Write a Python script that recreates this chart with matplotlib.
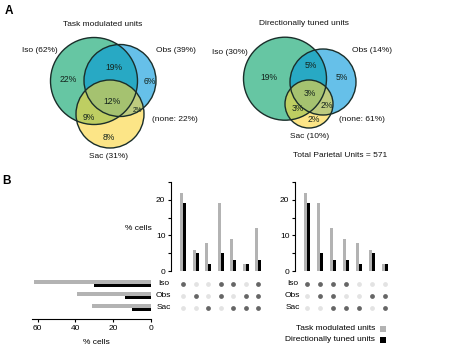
import numpy as np
import matplotlib
matplotlib.use("Agg")
import matplotlib.pyplot as plt
from matplotlib.patches import Circle

plt.rcParams['font.family'] = ['Liberation Sans', 'DejaVu Sans']

# ---------------- data ----------------
sets = ['Iso', 'Obs', 'Sac']
combos = [('Iso',), ('Obs',), ('Sac',), ('Iso', 'Obs'), ('Iso', 'Sac'), ('Obs', 'Sac'), ('Iso', 'Obs', 'Sac')]
task_pct = [22, 6, 8, 19, 9, 2, 12]
tuned_pct = [19, 5, 2, 5, 3, 2, 3]
task_totals = [62, 39, 31]
tuned_totals = [30, 14, 10]
task_none = 22
tuned_none = 61
total_units = 571
task_title = 'Task modulated units'
tuned_title = 'Directionally tuned units'
bar_ticks = [0, 10, 20]
hbar_ticks = [60, 40, 20, 0]

# ---------------- layout ----------------
W, H = 474, 351
fig = plt.figure(figsize=(W / 100, H / 100), dpi=100)

def ax_px(x0, y0, x1, y1):
    return fig.add_axes([x0 / W, 1 - y1 / H, (x1 - x0) / W, (y1 - y0) / H])

GRAY = '#b3b3b3'
FS = 6

canvas = ax_px(0, 0, W, H)
canvas.set_xlim(0, W)
canvas.set_ylim(H, 0)
canvas.axis('off')

circle_colors = {'Iso': (0.0, 0.63, 0.40), 'Obs': (0.0, 0.59, 0.86), 'Sac': (0.98, 0.83, 0.22)}
EDGE = '#1a2e2a'

def venn(ax, totals, pct, none, geom, title, title_xy, set_label_xy, region_xy, none_xy, small=()):
    for s in sets:
        (cx, cy), r = geom[s]
        ax.add_patch(Circle((cx, cy), r, facecolor=circle_colors[s], alpha=0.6, edgecolor='none', zorder=1))
    for s in sets:
        (cx, cy), r = geom[s]
        ax.add_patch(Circle((cx, cy), r, facecolor='none', edgecolor=EDGE, lw=1.0, zorder=2))
    ax.text(*title_xy, title, fontsize=FS, ha='center', va='center', color='#111111')
    for s, t in zip(sets, totals):
        ax.text(*set_label_xy[s], f'{s} ({t}%)', fontsize=FS, ha='center', va='center', color='#111111')
    for i, (c, v) in enumerate(zip(combos, pct)):
        fs = 4.8 if i in small else 6.2
        ax.text(*region_xy[i], f'{v}%', fontsize=fs, ha='center', va='center', color='#15241d', zorder=3)
    ax.text(*none_xy, f'(none: {none}%)', fontsize=FS, ha='center', va='center', color='#111111')

venn(canvas, task_totals, task_pct, task_none,
     {'Iso': ((94, 81), 43.5), 'Obs': ((120, 80.5), 36), 'Sac': ((110, 114), 34)},
     task_title, (103, 25),
     {'Iso': (39.5, 50), 'Obs': (175.5, 50), 'Sac': (108.7, 156)},
     [(68, 79), (150, 82), (109, 137), (114, 68), (89, 118), (137, 111), (112, 101)],
     (174.5, 119.5), small=(5,))

venn(canvas, tuned_totals, tuned_pct, tuned_none,
     {'Iso': ((285, 78.7), 41.5), 'Obs': ((323, 82), 33), 'Sac': ((309, 104), 24)},
     tuned_title, (304, 23.5),
     {'Iso': (230, 52), 'Obs': (372, 50), 'Sac': (309.5, 136)},
     [(269, 78), (341.7, 78), (313.3, 119.3), (310.7, 66), (297.3, 108.7), (326.7, 106), (310, 93)],
     (361.5, 119.5))

canvas.text(340, 155.5, f'Total Parietal Units = {total_units}', fontsize=FS, ha='center', va='center', color='#111111')
canvas.text(8.5, 11.5, 'A', fontsize=8.5, fontweight='bold', ha='center', va='center')
canvas.text(7, 181, 'B', fontsize=8.5, fontweight='bold', ha='center', va='center')

# ---------------- upset plots ----------------
ROW_TOP, ROW_BOT = 277, 319
ylim_rows = (2 + 11.5 / 12, -6.5 / 12)

def style_bar_ax(ax):
    for sp in ['top', 'right', 'bottom']:
        ax.spines[sp].set_visible(False)
    ax.spines['left'].set_linewidth(0.8)
    ax.set_ylim(0, 25)
    ax.set_yticks([0, 5, 10, 15, 20, 25])
    ax.set_yticklabels([str(t) if t in bar_ticks else '' for t in [0, 5, 10, 15, 20, 25]])
    ax.tick_params(axis='y', length=2.5, width=0.8, labelsize=FS, pad=1.5)
    ax.set_xticks([])

def upset(order, x0, x1, xleft, label_x, ylabel=False):
    ax = ax_px(x0, 182, x1, 271)
    n = len(order)
    xs = np.arange(n)
    tv = [task_pct[i] for i in order]
    dv = [tuned_pct[i] for i in order]
    ax.bar(xs - 0.12, tv, width=0.24, color=GRAY, zorder=1)
    ax.bar(xs + 0.12, dv, width=0.24, color='black', zorder=2)
    ax.set_xlim(xleft, n - 0.45)
    style_bar_ax(ax)
    if ylabel:
        canvas.text(138.5, 228, '% cells', fontsize=FS, ha='center', va='center')
    m = ax_px(x0, ROW_TOP, x1, ROW_BOT)
    m.set_xlim(xleft, n - 0.45)
    m.set_ylim(*ylim_rows)
    m.axis('off')
    for j, i in enumerate(order):
        for r, s in enumerate(sets):
            on = s in combos[i]
            m.scatter(j, r, s=12, color='#666666' if on else '#e3e3e3', linewidths=0, zorder=2)
    for r, s in enumerate(sets):
        m.text(label_x, r, s, fontsize=FS, ha='center', va='center',
               transform=matplotlib.transforms.blended_transform_factory(canvas.transData, m.transData))
    return ax

upset(list(range(len(combos))), 171, 265, -0.96, 163.5, ylabel=True)
order_sorted = list(np.argsort(-np.array(task_pct), kind='stable'))
upset(order_sorted, 295, 392, -0.93, 292.5)

# horizontal totals
hb = ax_px(32, ROW_TOP, 151, ROW_BOT)
rows = np.arange(len(sets))
hb.barh(rows - 0.14, task_totals, height=0.28, color=GRAY, zorder=1)
hb.barh(rows + 0.14, tuned_totals, height=0.28, color='black', zorder=2)
hb.set_xlim(63, 0)
hb.set_ylim(*ylim_rows)
for sp in ['top', 'right', 'left']:
    hb.spines[sp].set_visible(False)
hb.spines['bottom'].set_linewidth(0.8)
hb.set_yticks([])
hb.set_xticks(hbar_ticks)
hb.tick_params(axis='x', length=2.5, width=0.8, labelsize=FS, pad=2)
canvas.text(96, 342, '% cells', fontsize=FS, ha='center', va='center')

# legend
canvas.text(375, 328.5, task_title, fontsize=FS, ha='right', va='center')
canvas.text(375, 339.5, tuned_title, fontsize=FS, ha='right', va='center')
canvas.add_patch(matplotlib.patches.Rectangle((380, 325.5), 6, 6, facecolor=GRAY, edgecolor='none'))
canvas.add_patch(matplotlib.patches.Rectangle((380, 336.5), 6, 6, facecolor='black', edgecolor='none'))

fig.savefig('out.png', dpi=100)
